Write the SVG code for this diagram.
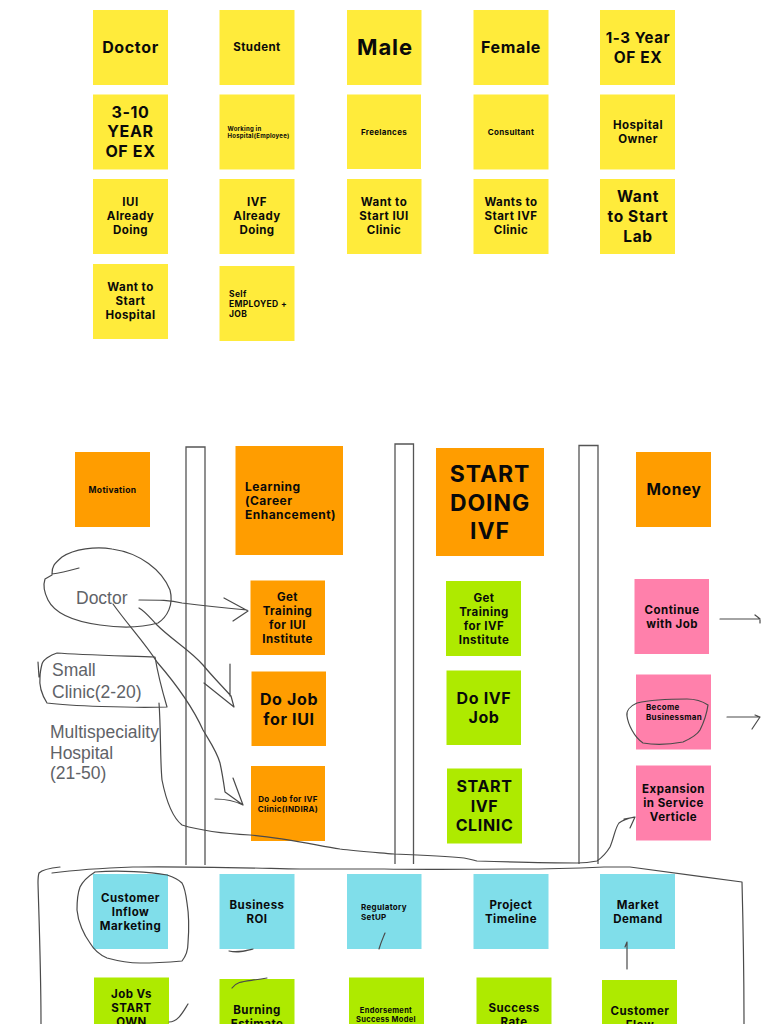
<svg xmlns="http://www.w3.org/2000/svg" width="768" height="1024" viewBox="0 0 768 1024">
<style>
.y{fill:#ffeb3b}.o{fill:#ff9d00}.g{fill:#aeea00}.p{fill:#ff80ab}.b{fill:#80deea}
text{font-family:"Inter","Liberation Sans",sans-serif;font-weight:700;fill:#0a0a0a;text-anchor:middle;letter-spacing:.04em}
.l{text-anchor:start}
.h{font-family:"Liberation Sans",Arial,sans-serif;font-weight:400;fill:#5f6368;text-anchor:start;font-size:17.5px;letter-spacing:0}
.s{fill:none;stroke:#4a4a4a;stroke-width:1.2;stroke-linecap:round;stroke-linejoin:round}
.v{fill:none;stroke:#555;stroke-width:1.3}
</style>
<g id="n-doctor"><rect class="y" x="93" y="10" width="75" height="75"/><text x="130.500" y="53" font-size="16">Doctor</text></g>
<g id="n-student"><rect class="y" x="219.500" y="10" width="75" height="75"/><text x="257" y="51" font-size="11.500">Student</text></g>
<g id="n-male"><rect class="y" x="347" y="10" width="74.500" height="75"/><text x="385" y="55" font-size="22">Male</text></g>
<g id="n-female"><rect class="y" x="473.500" y="10" width="75" height="75"/><text x="511" y="53" font-size="16">Female</text></g>
<g id="n-13y"><rect class="y" x="600" y="10" width="75" height="75"/><text x="638" y="43" font-size="15">1-3 Year</text><text x="638" y="63" font-size="15.500">OF EX</text></g>
<g id="n-310y"><rect class="y" x="93" y="94.500" width="75" height="75"/><text x="130.500" y="118" font-size="16">3-10</text><text x="130.500" y="137" font-size="16">YEAR</text><text x="130.500" y="157" font-size="16">OF EX</text></g>
<g id="n-working"><rect class="y" x="219.500" y="94.500" width="75" height="75"/><text class="l" x="227.500" y="131" font-size="6">Working in</text><text class="l" x="227.500" y="138" font-size="6">Hospital(Employee)</text></g>
<g id="n-free"><rect class="y" x="347" y="94.500" width="74" height="74.500"/><text x="384" y="135" font-size="8">Freelances</text></g>
<g id="n-consult"><rect class="y" x="473.500" y="94.500" width="75" height="75"/><text x="511" y="135" font-size="8">Consultant</text></g>
<g id="n-owner"><rect class="y" x="600" y="94.500" width="75" height="75"/><text x="638" y="129" font-size="11.500">Hospital</text><text x="638" y="143" font-size="11.500">Owner</text></g>
<g id="n-iui"><rect class="y" x="93" y="179" width="75" height="75"/><text x="130.500" y="206" font-size="11.500">IUI</text><text x="130.500" y="220" font-size="11.500">Already</text><text x="130.500" y="234" font-size="11.500">Doing</text></g>
<g id="n-ivf"><rect class="y" x="219.500" y="179" width="75" height="75"/><text x="257" y="206" font-size="11.500">IVF</text><text x="257" y="220" font-size="11.500">Already</text><text x="257" y="234" font-size="11.500">Doing</text></g>
<g id="n-wiui"><rect class="y" x="347" y="179" width="74.500" height="75"/><text x="384" y="206" font-size="11.500">Want to</text><text x="384" y="220" font-size="11.500">Start IUI</text><text x="384" y="234" font-size="11.500">Clinic</text></g>
<g id="n-wivf"><rect class="y" x="473.500" y="179" width="75" height="75"/><text x="511" y="206" font-size="11.500">Wants to</text><text x="511" y="220" font-size="11.500">Start IVF</text><text x="511" y="234" font-size="11.500">Clinic</text></g>
<g id="n-wlab"><rect class="y" x="600" y="179" width="75" height="75"/><text x="638" y="202" font-size="15.500">Want</text><text x="638" y="222" font-size="15.500">to Start</text><text x="638" y="242" font-size="15.500">Lab</text></g>
<g id="n-whosp"><rect class="y" x="93" y="264" width="75" height="75"/><text x="130.500" y="291" font-size="11.500">Want to</text><text x="130.500" y="305" font-size="11.500">Start</text><text x="130.500" y="319" font-size="11.500">Hospital</text></g>
<g id="n-self"><rect class="y" x="219.500" y="266" width="75" height="75"/><text class="l" x="229" y="297" font-size="8.500">Self</text><text class="l" x="229" y="307" font-size="8.500">EMPLOYED +</text><text class="l" x="229" y="317" font-size="8.500">JOB</text></g>

<g id="n-motivation"><rect class="o" x="75" y="452" width="75" height="75"/><text x="112.500" y="493" font-size="8.500">Motivation</text></g>
<g id="n-learning"><rect class="o" x="235.500" y="446" width="107.500" height="109"/><text class="l" x="245" y="491" font-size="12">Learning</text><text class="l" x="245" y="505" font-size="12">(Career</text><text class="l" x="245" y="519" font-size="12">Enhancement)</text></g>
<g id="n-startivf"><rect class="o" x="436" y="448" width="108" height="108"/><text x="490" y="482" font-size="23">START</text><text x="490" y="511" font-size="23">DOING</text><text x="490" y="539" font-size="23">IVF</text></g>
<g id="n-money"><rect class="o" x="636" y="452" width="75" height="75"/><text x="674" y="495" font-size="15.500">Money</text></g>
<g id="n-getiui"><rect class="o" x="250.500" y="580.500" width="74.500" height="74.500"/><text x="287.500" y="601" font-size="11.500">Get</text><text x="287.500" y="615" font-size="11.500">Training</text><text x="287.500" y="629" font-size="11.500">for IUI</text><text x="287.500" y="643" font-size="11.500">Institute</text></g>
<g id="n-jobiui"><rect class="o" x="251.500" y="671.500" width="74.500" height="74.500"/><text x="289" y="705" font-size="16">Do Job</text><text x="289" y="725" font-size="16">for IUI</text></g>
<g id="n-jobivf"><rect class="o" x="251" y="766" width="74" height="75"/><text x="288" y="802" font-size="8">Do Job for IVF</text><text x="288" y="812" font-size="8">Clinic(INDIRA)</text></g>
<g id="n-getivf"><rect class="g" x="446" y="581" width="75" height="75"/><text x="484" y="602" font-size="11.500">Get</text><text x="484" y="616" font-size="11.500">Training</text><text x="484" y="630" font-size="11.500">for IVF</text><text x="484" y="644" font-size="11.500">Institute</text></g>
<g id="n-doivf"><rect class="g" x="446.500" y="670.500" width="74.500" height="74.500"/><text x="484" y="704" font-size="16">Do IVF</text><text x="484" y="723" font-size="16">Job</text></g>
<g id="n-startclinic"><rect class="g" x="447" y="768.500" width="75" height="75"/><text x="484.500" y="792" font-size="16">START</text><text x="484.500" y="812" font-size="16">IVF</text><text x="484.500" y="831" font-size="16">CLINIC</text></g>
<g id="n-continue"><rect class="p" x="634.500" y="579" width="74.500" height="75"/><text x="672" y="614" font-size="11.500">Continue</text><text x="672" y="628" font-size="11.500">with Job</text></g>
<g id="n-become"><rect class="p" x="636" y="674.500" width="75" height="75"/><text class="l" x="646" y="710" font-size="8">Become</text><text class="l" x="646" y="720" font-size="8">Businessman</text></g>
<g id="n-expansion"><rect class="p" x="636" y="765.500" width="75" height="75"/><text x="673.500" y="793" font-size="11.500">Expansion</text><text x="673.500" y="807" font-size="11.500">in Service</text><text x="673.500" y="821" font-size="11.500">Verticle</text></g>

<g id="n-customer"><rect class="b" x="93" y="874" width="75" height="75"/><text x="130.500" y="902" font-size="11.500">Customer</text><text x="130.500" y="916" font-size="11.500">Inflow</text><text x="130.500" y="930" font-size="11.500">Marketing</text></g>
<g id="n-roi"><rect class="b" x="219.500" y="874" width="75" height="75"/><text x="257" y="909" font-size="11.500">Business</text><text x="257" y="923" font-size="11.500">ROI</text></g>
<g id="n-reg"><rect class="b" x="347" y="874" width="74.500" height="75"/><text class="l" x="361" y="910" font-size="8">Regulatory</text><text class="l" x="361" y="920" font-size="8">SetUP</text></g>
<g id="n-timeline"><rect class="b" x="473.500" y="874" width="75" height="75"/><text x="511" y="909" font-size="11.500">Project</text><text x="511" y="923" font-size="11.500">Timeline</text></g>
<g id="n-demand"><rect class="b" x="600" y="874" width="75" height="75"/><text x="638" y="909" font-size="11.500">Market</text><text x="638" y="923" font-size="11.500">Demand</text></g>
<g id="n-jobvs"><rect class="g" x="94" y="977.500" width="75" height="50"/><text x="131.500" y="998" font-size="11.500">Job Vs</text><text x="131.500" y="1012" font-size="11.500">START</text><text x="131.500" y="1026" font-size="11.500">OWN</text></g>
<g id="n-burn"><rect class="g" x="219.500" y="979" width="75" height="50"/><text x="257" y="1014" font-size="11.500">Burning</text><text x="257" y="1028" font-size="11.500">Estimate</text></g>
<g id="n-endorse"><rect class="g" x="349" y="977.500" width="75" height="50"/><text x="386" y="1013" font-size="7.500">Endorsement</text><text x="386" y="1022" font-size="7.500">Success Model</text></g>
<g id="n-rate"><rect class="g" x="476.500" y="977.500" width="75" height="50"/><text x="514" y="1012" font-size="11.500">Success</text><text x="514" y="1026" font-size="11.500">Rate</text></g>
<g id="n-flow"><rect class="g" x="602" y="980" width="75" height="50"/><text x="640" y="1015" font-size="11.500">Customer</text><text x="640" y="1029" font-size="11.500">Flow</text></g>

<g id="labels">
<text class="h" x="76" y="603.500">Doctor</text>
<text class="h" x="52" y="676">Small</text><text class="h" x="52" y="698">Clinic(2-20)</text>
<text class="h" x="50" y="738">Multispeciality</text><text class="h" x="50" y="759">Hospital</text><text class="h" x="50" y="779">(21-50)</text>
</g>

<g id="connectors">
<path class="v" d="M186 865V447H205V865M395 864V444H413.500V864M579 864V445.500H598V864"/>
<path class="s" d="M79 568C68 571 60 573 52 574C52 566 54 564 62 557C74 549 96 546 112 549C140 553 162 570 170 590C174 605 167 617 158 623C140 628 120 628 100 625C78 622 56 616 48 600C43 590 44 582 45 579L52 575"/>
<path class="s" d="M139 600C160 600 170 600 182 603C205 606 225 608 247 610M224 598L248 611L233 621"/>
<path class="s" d="M139 608C146 612 151 619 157 625C172 640 190 650 203 665C212 676 222 686 231 696M230 664V696M204 683L234 707L231 696"/>
<path class="s" d="M113 604C128 625 145 643 157 662C176 684 194 710 203 730C212 745 217 752 220 763C222 772 224 785 225 792L243 805L233 778M215 799C225 799 235 801 243 805"/>
<path class="s" d="M38 662L39 677M42 664C43 660 50 655 57 653C80 655 130 656 155 657C158 675 162 690 167 707C130 708 70 706 47 703C42 695 39 685 40 677C40 672 41 668 42 664"/>
<path class="s" d="M159 703C161 730 160 760 162 780C166 800 172 817 182 825C205 832 230 834 250 835C285 838 315 845 340 849C355 851 370 852 394 854C420 855 445 856 464 858C470 859 473 860 477 861C510 862 545 863 577 863C585 863 592 862 597 861C604 856 607 852 610 847C614 838 615 828 619 823C624 819 630 818 635 817M630 828L635 817L624 819"/>
<path class="s" d="M720 619H760C758 617 756 616 755 615M760 620L760 623"/>
<path class="s" d="M727 717H760L752 729M760 717L755 715"/>
<path class="s" d="M637 703C630 706 626 711 627 716C628 724 634 737 643 743C655 745 672 744 683 742C692 738 697 735 700 730C704 722 707 712 708 705C702 701 695 699 687 699C670 699 650 700 637 703"/>
<path class="s" d="M52 873C75 870 105 868 133 867C180 866 250 868 300 869C340 869 360 869 384 869C430 870 470 869 520 869C555 869 580 868 604 867C612 867 622 867 630 867C660 871 705 877 742 882C743 920 744 960 744 1024M60 867C50 868 42 870 39 873C38 876 38 880 38 883C39 920 41 970 41 1024"/>
<path class="s" d="M95 872C87 877 83 881 80 887C77 895 77 902 77 910C78 922 84 935 90 943C94 950 100 955 107 958C118 961 128 963 140 963C155 963 170 962 182 961C186 956 188 950 188 943C189 930 189 915 187 903C186 895 185 888 182 883C178 879 173 877 167 875C150 872 120 870 95 872"/>
<path class="s" d="M229 951C238 953 245 951 253 949M232 988C238 980 245 982 267 978"/>
<path class="s" d="M379 949C381 942 383 938 385 933"/>
<path class="s" d="M627 969L627 942M625 947L627 942"/>
<path class="s" d="M169 1022C178 1022 183 1012 188 1004"/>
</g>
</svg>
